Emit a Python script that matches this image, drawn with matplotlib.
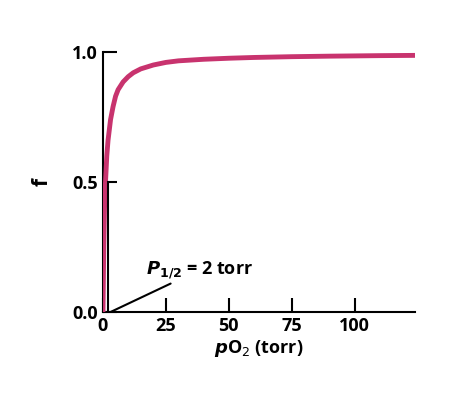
import matplotlib
matplotlib.use("Agg")
import matplotlib.pyplot as plt

po2 = [0, 0.3, 0.6, 1, 1.5, 2, 3, 4, 5, 6, 8, 10, 12, 15, 20, 25, 30, 40, 50, 60, 75, 90, 100, 110, 124]
frac = [0, 0.25, 0.40, 0.50, 0.60, 0.66, 0.74, 0.79, 0.83, 0.855, 0.885, 0.905, 0.92, 0.935, 0.95, 0.96, 0.966, 0.972, 0.976, 0.979, 0.982, 0.984, 0.985, 0.986, 0.987]
xticks = [0, 25, 50, 75, 100]
yticks = [0.0, 0.5, 1.0]
p_half = 2

plt.rcParams['font.family'] = ['Open Sans', 'DejaVu Sans']
fig = plt.figure(figsize=(4.74, 4.04), dpi=100)
ax = fig.add_axes([103/474, 1-312/404, (415-103)/474, (312-52)/404])
ax.plot(po2, frac, color='#C8336E', lw=3.5, solid_capstyle='butt', zorder=3)
ax.plot([p_half, p_half], [0, 0.5], color='black', lw=1.5, zorder=4)
ax.set_xlim(0, 124)
ax.set_ylim(0, 1.0)
for s in ['top', 'right']:
    ax.spines[s].set_visible(False)
for s in ['left', 'bottom']:
    ax.spines[s].set_linewidth(1.5)
    ax.spines[s].set_clip_on(False)
ax.set_xticks(xticks)
ax.set_yticks(yticks)
ax.set_yticklabels(['0.0', '0.5', '1.0'])
ax.tick_params(direction='in', length=10, width=1.5, labelsize=13)
for t in ax.get_xticklabels() + ax.get_yticklabels():
    t.set_fontweight('bold')
ax.set_xlabel(r'$\boldsymbol{p}$O$_2$ (torr)', fontsize=13, fontweight='bold', labelpad=2)
ax.set_ylabel('f', fontsize=15, fontweight='bold', labelpad=14)
ax.annotate(r'$\boldsymbol{P}_{\mathbf{1/2}}$ = 2 torr', xy=(3, 0), xytext=(17, 0.12),
            fontsize=13, fontweight='bold',
            arrowprops=dict(arrowstyle='-', color='black', lw=1.5, shrinkA=0, shrinkB=0),
            ha='left', va='bottom')
fig.savefig('out.png', dpi=100)
